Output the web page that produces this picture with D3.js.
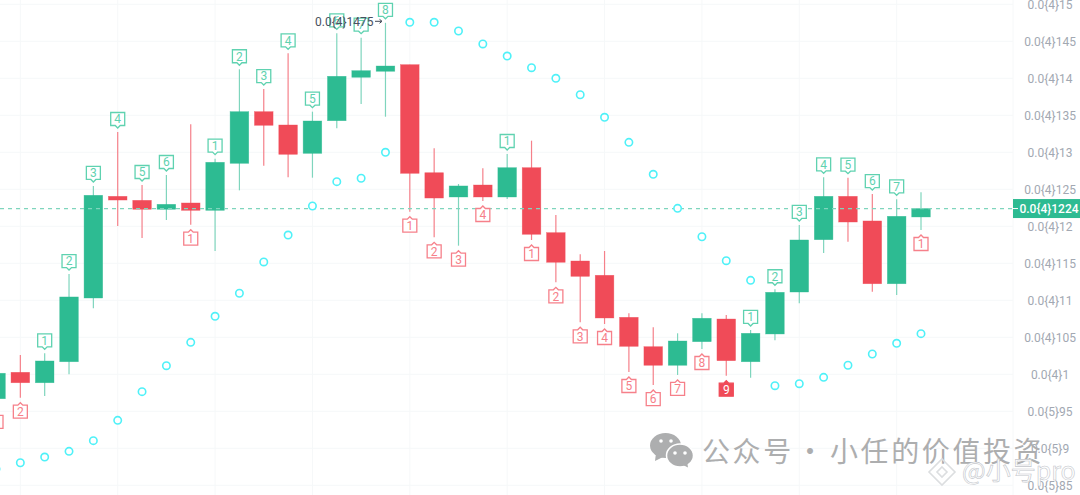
<!DOCTYPE html>
<html>
<head>
<meta charset="utf-8">
<script src="https://cdn.jsdelivr.net/npm/d3@7"></script>
<style>
  html, body { margin: 0; padding: 0; background: #fff; overflow: hidden; }
  text { font-family: Roboto, sans-serif; }
</style>
</head>
<body>
<div id="graph"></div>
<script>
// price unit is 0.0{4}1 = 1, so 1.224 reads as 0.0{4}1224
var open = [0.9670,1.0027,0.9886,1.0170,1.1031,1.2405,1.2351,1.2230,1.2315,1.2216,1.2851,1.3549,1.3369,1.2986,1.3427,1.4014,1.4095,1.4184,1.2724,1.2396,1.2558,1.2396,1.2792,1.1914,1.1531,1.1338,1.0770,1.0373,1.0122,1.0441,1.0747,1.0170,1.0545,1.1112,1.1819,1.2405,1.2072,1.1224,1.2126];
var high = [1.0099,1.0261,1.0284,1.1355,1.2545,1.3274,1.2558,1.2693,1.3378,1.2914,1.4122,1.3855,1.4338,1.3549,1.4608,1.4549,1.4750,1.4184,1.3054,1.2572,1.2784,1.2977,1.3157,1.2153,1.1622,1.1666,1.0824,1.0635,1.0554,1.0824,1.0801,1.0599,1.1149,1.2018,1.2662,1.2657,1.2436,1.2365,1.2459];
var low = [0.9545,0.9684,0.9707,1.0000,1.0892,1.2004,1.1842,1.2085,1.2022,1.1666,1.2486,1.2819,1.2662,1.2657,1.3324,1.3653,1.3481,1.2197,1.1851,1.1738,1.2342,1.2369,1.1815,1.1243,1.0703,1.0680,1.0031,0.9855,0.9991,1.0342,0.9981,0.9954,1.0459,1.0959,1.1639,1.1792,1.1116,1.1072,1.1950];
var close = [1.0014,0.9886,1.0180,1.1045,1.2419,1.2355,1.2230,1.2297,1.2216,1.2865,1.3549,1.3365,1.2973,1.3423,1.4027,1.4103,1.4166,1.2716,1.2382,1.2545,1.2396,1.2792,1.1892,1.1514,1.1324,1.0761,1.0378,1.0122,1.0450,1.0757,1.0184,1.0554,1.1108,1.1815,1.2405,1.2058,1.1224,1.2135,1.2240];
var sar = [0.8720,0.8805,0.8882,0.8959,0.9103,0.9378,0.9765,1.0116,1.0432,1.0784,1.1095,1.1518,1.1882,1.2274,1.2603,1.2649,1.3000,1.4757,1.4757,1.4639,1.4464,1.4301,1.4143,1.4000,1.3778,1.3473,1.3135,1.2703,1.2243,1.1859,1.1535,1.1270,0.9846,0.9873,0.9959,1.0122,1.0274,1.0419,1.0549];

// sequence counter above (1) or below (-1) each candle
var seqNum = [1,2,1,2,3,4,5,6,1,1,2,3,4,5,6,7,8,1,2,3,4,1,1,2,3,4,5,6,7,8,9,1,2,3,4,5,6,7,1];
var seqSide = [-1,-1,1,1,1,1,1,1,-1,1,1,1,1,1,1,1,1,-1,-1,-1,-1,1,-1,-1,-1,-1,-1,-1,-1,-1,-1,1,1,1,1,1,1,1,-1];

var tickValues = [1.5,1.45,1.4,1.35,1.3,1.25,1.2,1.15,1.1,1.05,1,0.95,0.9,0.85];
var tickLabels = ["0.0{4}15","0.0{4}145","0.0{4}14","0.0{4}135","0.0{4}13","0.0{4}125","0.0{4}12","0.0{4}115","0.0{4}11","0.0{4}105","0.0{4}1","0.0{5}95","0.0{5}9","0.0{5}85"];
var lastPrice = 1.224, lastLabel = "0.0{4}1224";
var maxIndex = 16, maxLabel = "0.0{4}1475";

var w = 1080, h = 495, plotRight = 1013;
var green = "#2dbb92", red = "#f04b58";
var greenSoft = "#7fd5bd", redSoft = "#f5808a";
var greenMark = "#5fd2b0", redMark = "#f6808a";

var vis = d3.select("#graph").append("svg").attr("width", w).attr("height", h)
  .style("display", "block");

var x = d3.scaleLinear().domain([0, 38]).range([-4, 921]);
var y = d3.scaleLinear().domain([1.5, 0.85]).range([4.3, 485.3]);
var idx = d3.range(open.length);

// grid, one vertical every 4 candles
vis.append("g").selectAll("line").data(idx.filter(i => i % 4 == 1)).enter().append("line")
  .attr("x1", i => x(i)).attr("x2", i => x(i))
  .attr("y1", 0).attr("y2", h)
  .attr("stroke", "#f6f8f9");
vis.append("g").selectAll("line").data(tickValues).enter().append("line")
  .attr("x1", 0).attr("x2", plotRight)
  .attr("y1", d => y(d)).attr("y2", d => y(d))
  .attr("stroke", "#f6f8f9");
vis.append("line")
  .attr("x1", plotRight).attr("x2", plotRight).attr("y1", 0).attr("y2", h)
  .attr("stroke", "#f6f8f9");

// right axis
var axis = d3.axisRight(y).tickValues(tickValues).tickSize(0)
  .tickFormat((d, i) => tickLabels[i]);
var axisG = vis.append("g").attr("transform", "translate(1050,0)").call(axis);
axisG.select(".domain").remove();
axisG.selectAll("text")
  .attr("x", 0).attr("text-anchor", "middle")
  .attr("fill", "#a2a8b2").style("font-size", "12px").style("font-family", "Roboto, sans-serif");

// candles
var isUp = i => close[i] >= open[i];
var candles = vis.append("g");
candles.selectAll("line").data(idx).enter().append("line")
  .attr("x1", i => x(i)).attr("x2", i => x(i))
  .attr("y1", i => y(high[i])).attr("y2", i => y(low[i]))
  .attr("stroke-width", 1.2)
  .attr("stroke", i => isUp(i) ? greenSoft : redSoft);
candles.selectAll("rect").data(idx).enter().append("rect")
  .attr("x", i => x(i) - 9.3).attr("width", 18.6)
  .attr("y", i => y(Math.max(open[i], close[i])))
  .attr("height", i => Math.abs(y(open[i]) - y(close[i])))
  .attr("fill", i => isUp(i) ? green : red)
  .attr("stroke", i => isUp(i) ? green : red)
  .attr("stroke-opacity", 0.6)
  .attr("stroke-width", 0.6);

// last price line
vis.append("line")
  .attr("x1", 0).attr("x2", plotRight)
  .attr("y1", y(lastPrice)).attr("y2", y(lastPrice))
  .attr("stroke", greenSoft).attr("stroke-width", 1.2)
  .attr("stroke-dasharray", "4 4");

// dots
vis.append("g").selectAll("circle").data(idx).enter().append("circle")
  .attr("cx", i => x(i)).attr("cy", i => y(sar[i])).attr("r", 3.7)
  .attr("fill", "#fff").attr("stroke", "#4ff1f8").attr("stroke-width", 1.6);

// sequence flags
var flags = vis.append("g").selectAll("g").data(idx).enter().append("g")
  .attr("transform", i => "translate(" + x(i) + "," +
    (seqSide[i] > 0 ? y(high[i]) - 13 : y(low[i]) + 14) + ")");
flags.append("path")
  .attr("d", i => seqSide[i] > 0
    ? "M-7,-6.5H7V6.5H2.5L0,9L-2.5,6.5H-7Z"
    : "M-7,6.5H7V-6.5H2.5L0,-9L-2.5,-6.5H-7Z")
  .attr("fill", i => seqNum[i] == 9 ? red : "#fff")
  .attr("stroke", i => seqNum[i] == 9 ? red : (seqSide[i] > 0 ? greenMark : redMark))
  .attr("stroke-width", 1.3);
flags.append("text")
  .attr("text-anchor", "middle").attr("dy", "0.36em")
  .style("font-size", "12px")
  .attr("fill", i => seqNum[i] == 9 ? "#fff" : (seqSide[i] > 0 ? greenMark : redMark))
  .text(i => seqNum[i]);

// max price marker
var maxY = y(high[maxIndex]) - 1.5;
vis.append("text")
  .attr("x", 315).attr("y", maxY).attr("dy", "0.36em")
  .attr("fill", "#4a5160").style("font-size", "12px")
  .text(maxLabel);
vis.append("path")
  .attr("d", "M375," + maxY + "H381.5M379.5," + (maxY - 2) + "L382," + maxY + "L379.5," + (maxY + 2))
  .attr("fill", "none").attr("stroke", "#3f4654").attr("stroke-width", 1);

// last price tag
vis.append("rect")
  .attr("x", plotRight).attr("width", w - plotRight)
  .attr("y", y(lastPrice) - 9.5).attr("height", 19)
  .attr("fill", green);
vis.append("line")
  .attr("x1", plotRight).attr("x2", plotRight + 5)
  .attr("y1", y(lastPrice)).attr("y2", y(lastPrice))
  .attr("stroke", "#fff").attr("stroke-width", 1);
vis.append("text")
  .attr("x", 1049).attr("y", y(lastPrice)).attr("dy", "0.36em")
  .attr("text-anchor", "middle").attr("fill", "#fff")
  .style("font-size", "12px").style("font-weight", 500)
  .text(lastLabel);

// wechat watermark
var wm = vis.append("g").attr("fill", "#adaeaf");
wm.append("ellipse").attr("cx", 665.5).attr("cy", 445.5).attr("rx", 15.5).attr("ry", 12.5);
wm.append("path").attr("d", "M656,453L655,461L665,456Z");
wm.append("ellipse").attr("cx", 680).attr("cy", 455.5).attr("rx", 13.5).attr("ry", 11.5)
  .attr("stroke", "#fff").attr("stroke-width", 1.5);
wm.append("path").attr("d", "M683,465L688,467.5L687,461Z");
[[661,441],[671,441],[675,453],[685,453]].forEach(function(p) {
  wm.append("circle").attr("cx", p[0]).attr("cy", p[1]).attr("r", 1.8).attr("fill", "#fff");
});
var wmText = vis.append("g")
  .attr("fill", "#adaeaf")
  .style("font-size", "28px").style("letter-spacing", "2.6px");
[[702, "公众号"], [796, "·"], [830, "小任的价值投资"]].forEach(function(t) {
  wmText.append("text").attr("x", t[0]).attr("y", 462)
    .style("font-family", "'Noto Sans CJK SC', sans-serif").text(t[1]);
});

// second, outlined watermark
var wm2 = vis.append("g").attr("fill", "none").attr("stroke", "#dcdee0").attr("stroke-width", 1.6);
wm2.append("path").attr("d", "M942,459L955,472L942,485L929,472Z");
wm2.append("path").attr("d", "M942,467L947,472L942,477L937,472Z");
vis.append("text")
  .attr("x", 962).attr("y", 480)
  .attr("fill", "#fff").attr("stroke", "#c3c6cb").attr("stroke-width", 0.6)
  .style("font-family", "'Noto Sans CJK SC', sans-serif")
  .style("font-size", "25px")
  .text("@小号pro");
</script>
</body>
</html>
